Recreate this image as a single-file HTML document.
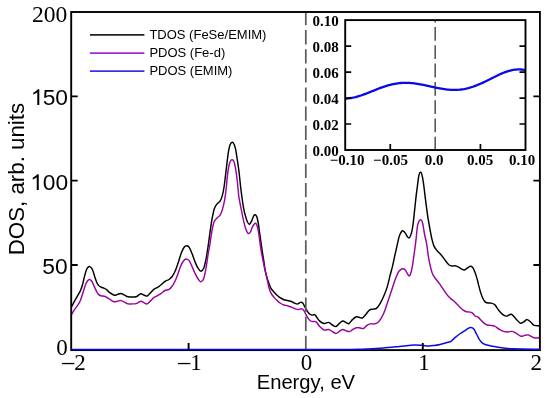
<!DOCTYPE html>
<html><head><meta charset="utf-8"><title>DOS</title>
<style>html,body{margin:0;padding:0;background:#fff;width:550px;height:398px;overflow:hidden;font-family:"Liberation Sans",sans-serif;}svg{display:block;}</style>
</head><body>
<svg width="550" height="398" viewBox="0 0 550 398" style="will-change:transform"><rect x="0" y="0" width="550" height="398" fill="#fff"/>
<defs><clipPath id="cm"><rect x="71.2" y="12.0" width="468.7" height="340.1"/></clipPath></defs>
<g clip-path="url(#cm)" fill="none" stroke-linejoin="round" stroke-linecap="round">
<path d="M70.00,309.50 C70.42,308.75 71.58,306.68 72.50,305.00 C73.42,303.32 74.50,301.22 75.50,299.40 C76.50,297.58 77.67,295.58 78.50,294.10 C79.33,292.62 79.83,292.05 80.50,290.50 C81.17,288.95 81.87,287.03 82.50,284.80 C83.13,282.57 83.68,279.48 84.30,277.10 C84.92,274.72 85.62,272.10 86.20,270.50 C86.78,268.90 87.22,268.15 87.80,267.50 C88.38,266.85 89.03,266.47 89.70,266.60 C90.37,266.73 91.17,267.32 91.80,268.30 C92.43,269.28 93.00,271.03 93.50,272.50 C94.00,273.97 94.27,275.48 94.80,277.10 C95.33,278.72 96.08,280.82 96.70,282.20 C97.32,283.58 97.87,284.62 98.50,285.40 C99.13,286.18 99.68,286.47 100.50,286.90 C101.32,287.33 102.33,287.52 103.40,288.00 C104.47,288.48 105.90,289.07 106.90,289.80 C107.90,290.53 108.17,291.50 109.40,292.40 C110.63,293.30 112.95,294.87 114.30,295.20 C115.65,295.53 116.42,294.68 117.50,294.40 C118.58,294.12 119.62,293.37 120.80,293.50 C121.98,293.63 123.42,294.65 124.60,295.20 C125.78,295.75 126.62,296.52 127.90,296.80 C129.18,297.08 130.93,296.90 132.30,296.90 C133.67,296.90 135.07,297.08 136.10,296.80 C137.13,296.52 137.68,295.70 138.50,295.20 C139.32,294.70 140.03,293.80 141.00,293.80 C141.97,293.80 143.25,294.83 144.30,295.20 C145.35,295.57 146.22,296.47 147.30,296.00 C148.38,295.53 149.67,293.53 150.80,292.40 C151.93,291.27 152.83,290.13 154.10,289.20 C155.37,288.27 157.13,287.62 158.40,286.80 C159.67,285.98 160.60,285.22 161.70,284.30 C162.80,283.38 163.78,282.10 165.00,281.30 C166.22,280.50 167.82,280.30 169.00,279.50 C170.18,278.70 171.08,277.88 172.10,276.50 C173.12,275.12 174.10,273.47 175.10,271.20 C176.10,268.93 177.10,265.83 178.10,262.90 C179.10,259.97 180.10,256.20 181.10,253.60 C182.10,251.00 183.15,248.60 184.10,247.30 C185.05,246.00 185.92,245.75 186.80,245.80 C187.68,245.85 188.47,246.13 189.40,247.60 C190.33,249.07 191.40,252.05 192.40,254.60 C193.40,257.15 194.38,260.52 195.40,262.90 C196.42,265.28 197.57,267.52 198.50,268.90 C199.43,270.28 200.13,271.32 201.00,271.20 C201.87,271.08 202.87,270.22 203.70,268.20 C204.53,266.18 205.28,262.63 206.00,259.10 C206.72,255.57 207.28,251.82 208.00,247.00 C208.72,242.18 209.60,235.00 210.30,230.20 C211.00,225.40 211.52,221.83 212.20,218.20 C212.88,214.57 213.58,210.78 214.40,208.40 C215.22,206.02 216.15,205.10 217.10,203.90 C218.05,202.70 219.23,202.58 220.10,201.20 C220.97,199.82 221.67,197.80 222.30,195.60 C222.93,193.40 223.38,191.20 223.90,188.00 C224.42,184.80 224.85,180.87 225.40,176.40 C225.95,171.93 226.67,165.45 227.20,161.20 C227.73,156.95 228.10,153.68 228.60,150.90 C229.10,148.12 229.58,145.93 230.20,144.50 C230.82,143.07 231.60,142.22 232.30,142.30 C233.00,142.38 233.82,143.68 234.40,145.00 C234.98,146.32 235.35,147.95 235.80,150.20 C236.25,152.45 236.58,155.05 237.10,158.50 C237.62,161.95 238.25,165.65 238.90,170.90 C239.55,176.15 240.23,183.88 241.00,190.00 C241.77,196.12 242.72,203.15 243.50,207.60 C244.28,212.05 245.03,214.30 245.70,216.70 C246.37,219.10 246.87,220.75 247.50,222.00 C248.13,223.25 248.78,224.43 249.50,224.20 C250.22,223.97 251.10,222.00 251.80,220.60 C252.50,219.20 253.13,216.77 253.70,215.80 C254.27,214.83 254.70,214.68 255.20,214.80 C255.70,214.92 256.18,215.12 256.70,216.50 C257.22,217.88 257.87,220.75 258.30,223.10 C258.73,225.45 258.88,227.58 259.30,230.60 C259.72,233.62 260.30,237.68 260.80,241.20 C261.30,244.72 261.80,248.43 262.30,251.70 C262.80,254.97 263.35,257.83 263.80,260.80 C264.25,263.77 264.55,266.92 265.00,269.50 C265.45,272.08 265.87,274.03 266.50,276.30 C267.13,278.57 268.05,281.08 268.80,283.10 C269.55,285.12 270.12,286.88 271.00,288.40 C271.88,289.92 273.08,291.07 274.10,292.20 C275.12,293.33 276.10,294.28 277.10,295.20 C278.10,296.12 278.97,296.95 280.10,297.70 C281.23,298.45 282.65,299.23 283.90,299.70 C285.15,300.17 286.35,300.20 287.60,300.50 C288.85,300.80 290.27,301.08 291.40,301.50 C292.53,301.92 293.40,302.60 294.40,303.00 C295.40,303.40 296.38,304.00 297.40,303.90 C298.42,303.80 299.62,302.55 300.50,302.40 C301.38,302.25 301.95,302.20 302.70,303.00 C303.45,303.80 304.25,305.87 305.00,307.20 C305.75,308.53 306.45,309.87 307.20,311.00 C307.95,312.13 308.70,313.32 309.50,314.00 C310.30,314.68 311.08,314.95 312.00,315.10 C312.92,315.25 313.75,313.93 315.00,314.90 C316.25,315.87 317.98,319.47 319.50,320.90 C321.02,322.33 322.58,323.25 324.10,323.50 C325.62,323.75 327.22,322.15 328.60,322.40 C329.98,322.65 331.15,324.32 332.40,325.00 C333.65,325.68 334.85,326.85 336.10,326.50 C337.35,326.15 338.77,323.83 339.90,322.90 C341.03,321.97 341.77,320.90 342.90,320.90 C344.03,320.90 345.68,322.47 346.70,322.90 C347.72,323.33 348.00,324.08 349.00,323.50 C350.00,322.92 351.45,320.52 352.70,319.40 C353.95,318.28 355.28,317.10 356.50,316.80 C357.72,316.50 358.98,317.43 360.00,317.60 C361.02,317.77 361.57,318.42 362.60,317.80 C363.63,317.18 365.02,315.23 366.20,313.90 C367.38,312.57 368.53,310.60 369.70,309.80 C370.87,309.00 372.03,309.38 373.20,309.10 C374.37,308.82 375.53,309.07 376.70,308.10 C377.87,307.13 379.03,305.27 380.20,303.30 C381.37,301.33 382.52,299.08 383.70,296.30 C384.88,293.52 386.27,289.97 387.30,286.60 C388.33,283.23 389.03,279.48 389.90,276.10 C390.77,272.72 391.68,269.70 392.50,266.30 C393.32,262.90 394.05,259.10 394.80,255.70 C395.55,252.30 396.25,249.17 397.00,245.90 C397.75,242.63 398.53,238.50 399.30,236.10 C400.07,233.70 400.97,232.37 401.60,231.50 C402.23,230.63 402.48,230.63 403.10,230.90 C403.72,231.17 404.55,232.10 405.30,233.10 C406.05,234.10 406.88,236.17 407.60,236.90 C408.32,237.63 408.97,238.13 409.60,237.50 C410.23,236.87 410.85,235.10 411.40,233.10 C411.95,231.10 412.38,229.15 412.90,225.50 C413.42,221.85 413.97,216.08 414.50,211.20 C415.03,206.32 415.58,200.65 416.10,196.20 C416.62,191.75 417.13,187.98 417.60,184.50 C418.07,181.02 418.43,177.37 418.90,175.30 C419.37,173.23 419.90,172.22 420.40,172.10 C420.90,171.98 421.40,172.85 421.90,174.60 C422.40,176.35 422.90,179.25 423.40,182.60 C423.90,185.95 424.40,190.68 424.90,194.70 C425.40,198.72 425.90,202.93 426.40,206.70 C426.90,210.47 427.40,214.08 427.90,217.30 C428.40,220.52 429.00,223.72 429.40,226.00 C429.80,228.28 429.90,228.90 430.30,231.00 C430.70,233.10 431.18,236.08 431.80,238.60 C432.42,241.12 433.12,244.08 434.00,246.10 C434.88,248.12 436.08,249.43 437.10,250.70 C438.12,251.97 439.10,252.58 440.10,253.70 C441.10,254.82 442.10,256.10 443.10,257.40 C444.10,258.70 445.10,260.23 446.10,261.50 C447.10,262.77 448.10,264.25 449.10,265.00 C450.10,265.75 451.08,265.88 452.10,266.00 C453.12,266.12 454.18,265.55 455.20,265.70 C456.22,265.85 457.20,266.38 458.20,266.90 C459.20,267.42 460.20,268.28 461.20,268.80 C462.20,269.32 463.20,270.10 464.20,270.00 C465.20,269.90 466.20,268.83 467.20,268.20 C468.20,267.57 469.32,266.37 470.20,266.20 C471.08,266.03 471.73,266.27 472.50,267.20 C473.27,268.13 474.05,269.90 474.80,271.80 C475.55,273.70 476.42,276.60 477.00,278.60 C477.58,280.60 477.72,281.55 478.30,283.80 C478.88,286.05 479.75,289.70 480.50,292.10 C481.25,294.50 482.03,296.57 482.80,298.20 C483.57,299.83 484.22,301.10 485.10,301.90 C485.98,302.70 487.23,302.82 488.10,303.00 C488.97,303.18 489.20,302.73 490.30,303.00 C491.40,303.27 493.23,303.30 494.70,304.60 C496.17,305.90 497.63,309.03 499.10,310.80 C500.57,312.57 502.18,314.32 503.50,315.20 C504.82,316.08 505.68,316.25 507.00,316.10 C508.32,315.95 509.93,313.87 511.40,314.30 C512.87,314.73 514.33,317.23 515.80,318.70 C517.27,320.17 518.88,322.57 520.20,323.10 C521.52,323.63 522.53,322.48 523.70,321.90 C524.87,321.32 526.02,319.55 527.20,319.60 C528.38,319.65 529.62,321.23 530.80,322.20 C531.98,323.17 532.77,324.82 534.30,325.40 C535.83,325.98 539.05,325.65 540.00,325.70" stroke="#000" stroke-width="1.45"/>
<path d="M70.00,316.50 C70.30,316.10 71.13,315.13 71.80,314.10 C72.47,313.07 73.13,311.62 74.00,310.30 C74.87,308.98 76.00,307.70 77.00,306.20 C78.00,304.70 78.97,303.67 80.00,301.30 C81.03,298.93 82.32,294.68 83.20,292.00 C84.08,289.32 84.57,287.07 85.30,285.20 C86.03,283.33 86.87,281.75 87.60,280.80 C88.33,279.85 88.97,279.38 89.70,279.50 C90.43,279.62 91.22,280.27 92.00,281.50 C92.78,282.73 93.55,285.07 94.40,286.90 C95.25,288.73 96.42,291.25 97.10,292.50 C97.78,293.75 97.88,293.85 98.50,294.40 C99.12,294.95 99.83,295.48 100.80,295.80 C101.77,296.12 103.28,296.02 104.30,296.30 C105.32,296.58 106.05,297.05 106.90,297.50 C107.75,297.95 108.27,298.30 109.40,299.00 C110.53,299.70 112.35,301.33 113.70,301.70 C115.05,302.07 116.32,301.38 117.50,301.20 C118.68,301.02 119.62,300.42 120.80,300.60 C121.98,300.78 123.42,301.75 124.60,302.30 C125.78,302.85 126.62,303.63 127.90,303.90 C129.18,304.17 130.93,303.95 132.30,303.90 C133.67,303.85 135.07,303.87 136.10,303.60 C137.13,303.33 137.68,302.70 138.50,302.30 C139.32,301.90 140.03,301.12 141.00,301.20 C141.97,301.28 143.30,302.35 144.30,302.80 C145.30,303.25 145.92,304.27 147.00,303.90 C148.08,303.53 149.62,301.68 150.80,300.60 C151.98,299.52 152.83,298.30 154.10,297.40 C155.37,296.50 157.13,295.93 158.40,295.20 C159.67,294.47 160.60,293.78 161.70,293.00 C162.80,292.22 163.78,291.12 165.00,290.50 C166.22,289.88 167.82,290.00 169.00,289.30 C170.18,288.60 171.08,287.68 172.10,286.30 C173.12,284.92 174.10,283.15 175.10,281.00 C176.10,278.85 177.10,276.05 178.10,273.40 C179.10,270.75 180.10,267.28 181.10,265.10 C182.10,262.92 183.15,261.30 184.10,260.30 C185.05,259.30 185.92,259.00 186.80,259.10 C187.68,259.20 188.47,259.52 189.40,260.90 C190.33,262.28 191.40,265.18 192.40,267.40 C193.40,269.62 194.38,272.18 195.40,274.20 C196.42,276.22 197.57,278.25 198.50,279.50 C199.43,280.75 200.13,281.83 201.00,281.70 C201.87,281.57 202.87,280.95 203.70,278.70 C204.53,276.45 205.23,272.47 206.00,268.20 C206.77,263.93 207.67,256.97 208.30,253.10 C208.93,249.23 209.22,248.55 209.80,245.00 C210.38,241.45 211.10,235.63 211.80,231.80 C212.50,227.97 213.12,224.32 214.00,222.00 C214.88,219.68 216.08,219.03 217.10,217.90 C218.12,216.77 219.23,216.53 220.10,215.20 C220.97,213.87 221.55,212.42 222.30,209.90 C223.05,207.38 223.97,203.50 224.60,200.10 C225.23,196.70 225.67,193.22 226.10,189.50 C226.53,185.78 226.78,181.47 227.20,177.80 C227.62,174.13 228.10,170.22 228.60,167.50 C229.10,164.78 229.58,162.78 230.20,161.50 C230.82,160.22 231.65,159.72 232.30,159.80 C232.95,159.88 233.57,160.62 234.10,162.00 C234.63,163.38 235.03,165.47 235.50,168.10 C235.97,170.73 236.45,174.15 236.90,177.80 C237.35,181.45 237.87,186.78 238.20,190.00 C238.53,193.22 238.40,193.92 238.90,197.10 C239.40,200.28 240.43,205.22 241.20,209.10 C241.97,212.98 242.75,217.13 243.50,220.40 C244.25,223.67 244.95,226.55 245.70,228.70 C246.45,230.85 247.23,232.73 248.00,233.30 C248.77,233.87 249.55,233.17 250.30,232.10 C251.05,231.03 251.75,228.33 252.50,226.90 C253.25,225.47 254.10,223.88 254.80,223.50 C255.50,223.12 256.12,223.42 256.70,224.60 C257.28,225.78 257.78,227.83 258.30,230.60 C258.82,233.37 259.30,237.68 259.80,241.20 C260.30,244.72 260.75,248.43 261.30,251.70 C261.85,254.97 262.57,258.08 263.10,260.80 C263.63,263.52 263.93,265.53 264.50,268.00 C265.07,270.47 265.78,272.43 266.50,275.60 C267.22,278.77 268.05,284.07 268.80,287.00 C269.55,289.93 270.12,291.47 271.00,293.20 C271.88,294.93 273.08,296.18 274.10,297.40 C275.12,298.62 276.10,299.57 277.10,300.50 C278.10,301.43 278.97,302.25 280.10,303.00 C281.23,303.75 282.65,304.55 283.90,305.00 C285.15,305.45 286.35,305.33 287.60,305.70 C288.85,306.07 290.13,306.68 291.40,307.20 C292.67,307.72 294.07,308.42 295.20,308.80 C296.33,309.18 297.20,309.50 298.20,309.50 C299.20,309.50 300.32,308.72 301.20,308.80 C302.08,308.88 302.75,309.13 303.50,310.00 C304.25,310.87 304.95,312.65 305.70,314.00 C306.45,315.35 307.23,316.97 308.00,318.10 C308.77,319.23 309.55,320.22 310.30,320.80 C311.05,321.38 311.58,321.45 312.50,321.60 C313.42,321.75 314.63,320.93 315.80,321.70 C316.97,322.47 318.12,324.82 319.50,326.20 C320.88,327.58 322.58,329.45 324.10,330.00 C325.62,330.55 327.22,329.25 328.60,329.50 C329.98,329.75 331.15,330.85 332.40,331.50 C333.65,332.15 334.85,333.48 336.10,333.40 C337.35,333.32 338.77,331.65 339.90,331.00 C341.03,330.35 341.77,329.50 342.90,329.50 C344.03,329.50 345.57,330.67 346.70,331.00 C347.83,331.33 348.70,331.75 349.70,331.50 C350.70,331.25 351.57,330.13 352.70,329.50 C353.83,328.87 355.28,327.95 356.50,327.70 C357.72,327.45 358.83,327.87 360.00,328.00 C361.17,328.13 362.33,328.95 363.50,328.50 C364.67,328.05 365.82,326.07 367.00,325.30 C368.18,324.53 369.42,324.13 370.60,323.90 C371.78,323.67 372.93,324.10 374.10,323.90 C375.27,323.70 376.43,323.63 377.60,322.70 C378.77,321.77 379.93,320.22 381.10,318.30 C382.27,316.38 383.43,314.13 384.60,311.20 C385.77,308.27 386.92,304.22 388.10,300.70 C389.28,297.18 390.52,293.62 391.70,290.10 C392.88,286.58 394.03,282.67 395.20,279.60 C396.37,276.53 397.88,273.25 398.70,271.70 C399.52,270.15 399.50,270.78 400.10,270.30 C400.70,269.82 401.43,268.85 402.30,268.80 C403.17,268.75 404.37,269.03 405.30,270.00 C406.23,270.97 407.13,273.72 407.90,274.60 C408.67,275.48 409.20,276.43 409.90,275.30 C410.60,274.17 411.43,271.07 412.10,267.80 C412.77,264.53 413.27,260.23 413.90,255.70 C414.53,251.17 415.32,245.47 415.90,240.60 C416.48,235.73 416.92,229.67 417.40,226.50 C417.88,223.33 418.30,222.72 418.80,221.60 C419.30,220.48 419.87,219.87 420.40,219.80 C420.93,219.73 421.55,220.28 422.00,221.20 C422.45,222.12 422.68,223.17 423.10,225.30 C423.52,227.43 423.93,231.03 424.50,234.00 C425.07,236.97 425.92,239.82 426.50,243.10 C427.08,246.38 427.50,250.43 428.00,253.70 C428.50,256.97 428.87,259.68 429.50,262.70 C430.13,265.72 431.22,269.78 431.80,271.80 C432.38,273.82 432.30,273.55 433.00,274.80 C433.70,276.05 435.00,277.92 436.00,279.30 C437.00,280.68 437.98,281.72 439.00,283.10 C440.02,284.48 441.08,286.10 442.10,287.60 C443.12,289.10 444.10,290.72 445.10,292.10 C446.10,293.48 447.10,294.77 448.10,295.90 C449.10,297.03 450.10,298.02 451.10,298.90 C452.10,299.78 453.10,300.32 454.10,301.20 C455.10,302.08 456.08,303.15 457.10,304.20 C458.12,305.25 459.18,306.50 460.20,307.50 C461.22,308.50 462.20,309.50 463.20,310.20 C464.20,310.90 465.20,311.40 466.20,311.70 C467.20,312.00 468.20,311.80 469.20,312.00 C470.20,312.20 471.20,312.23 472.20,312.90 C473.20,313.57 474.18,315.27 475.20,316.00 C476.22,316.73 477.28,316.55 478.30,317.30 C479.32,318.05 480.30,319.48 481.30,320.50 C482.30,321.52 483.30,322.65 484.30,323.40 C485.30,324.15 486.30,324.67 487.30,325.00 C488.30,325.33 489.07,325.22 490.30,325.40 C491.53,325.58 493.23,325.47 494.70,326.10 C496.17,326.73 497.63,328.32 499.10,329.20 C500.57,330.08 502.03,330.95 503.50,331.40 C504.97,331.85 506.43,331.90 507.90,331.90 C509.37,331.90 510.83,331.12 512.30,331.40 C513.77,331.68 515.23,332.78 516.70,333.60 C518.17,334.42 519.78,336.00 521.10,336.30 C522.42,336.60 523.43,335.63 524.60,335.40 C525.77,335.17 526.93,334.70 528.10,334.90 C529.27,335.10 530.42,336.08 531.60,336.60 C532.78,337.12 533.80,337.82 535.20,338.00 C536.60,338.18 539.20,337.75 540.00,337.70" stroke="#98049e" stroke-width="1.45"/>
</g>
<line x1="305.8" y1="11" x2="305.8" y2="349" stroke="#5a5a5a" stroke-width="1.7" stroke-dasharray="14.3 4.8"/>
<rect x="71.2" y="12.0" width="468.7" height="338.1" fill="none" stroke="#000" stroke-width="1.9"/>
<path d="M71.50,349.40 C109.58,349.40 253.58,349.40 300.00,349.40 C346.42,349.40 339.67,349.43 350.00,349.40 C360.33,349.37 358.33,349.30 362.00,349.20 C365.67,349.10 369.00,348.95 372.00,348.80 C375.00,348.65 377.33,348.50 380.00,348.30 C382.67,348.10 385.33,347.85 388.00,347.60 C390.67,347.35 393.33,347.08 396.00,346.80 C398.67,346.52 401.00,346.20 404.00,345.90 C407.00,345.60 411.03,345.10 414.00,345.00 C416.97,344.90 419.37,345.13 421.80,345.30 C424.23,345.47 426.57,345.97 428.60,346.00 C430.63,346.03 432.10,345.77 434.00,345.50 C435.90,345.23 438.08,344.82 440.00,344.40 C441.92,343.98 443.68,343.52 445.50,343.00 C447.32,342.48 449.27,342.23 450.90,341.30 C452.53,340.37 453.85,338.62 455.30,337.40 C456.75,336.18 458.15,335.03 459.60,334.00 C461.05,332.97 462.63,332.10 464.00,331.20 C465.37,330.30 466.67,329.20 467.80,328.60 C468.93,328.00 469.80,327.52 470.80,327.60 C471.80,327.68 472.85,328.03 473.80,329.10 C474.75,330.17 475.58,332.28 476.50,334.00 C477.42,335.72 478.30,337.87 479.30,339.40 C480.30,340.93 481.42,342.32 482.50,343.20 C483.58,344.08 484.33,344.23 485.80,344.70 C487.27,345.17 488.93,345.52 491.30,346.00 C493.67,346.48 496.35,347.13 500.00,347.60 C503.65,348.07 506.53,348.53 513.20,348.80 C519.87,349.07 535.53,349.13 540.00,349.20" fill="none" stroke="#0a0ae8" stroke-width="1.5" stroke-linejoin="round"/>
<rect x="307.5" y="13" width="231.5" height="157" fill="#fff"/>
<path d="M71.2,264.98 H77.7 M539.9,264.98 H533.4 M71.2,180.65 H77.7 M539.9,180.65 H533.4 M71.2,96.33 H77.7 M539.9,96.33 H533.4 M188.60,350.1 V343.1 M422.80,350.1 V343.1" stroke="#000" stroke-width="1.9" fill="none"/>
<line x1="435.2" y1="20.1" x2="435.2" y2="149" stroke="#5a5a5a" stroke-width="1.6" stroke-dasharray="13.8 4.5" stroke-dashoffset="11.4"/>
<polyline points="345.20,98.59 346.70,98.52 348.20,98.40 349.71,98.23 351.21,98.01 352.71,97.74 354.21,97.42 355.72,97.06 357.22,96.65 358.72,96.21 360.22,95.74 361.73,95.23 363.23,94.70 364.73,94.15 366.24,93.57 367.74,92.99 369.24,92.39 370.74,91.78 372.25,91.17 373.75,90.56 375.25,89.95 376.75,89.35 378.25,88.76 379.76,88.19 381.26,87.63 382.76,87.09 384.26,86.58 385.77,86.09 387.27,85.63 388.77,85.20 390.27,84.81 391.78,84.44 393.28,84.11 394.78,83.82 396.28,83.56 397.79,83.34 399.29,83.16 400.79,83.02 402.30,82.91 403.80,82.85 405.30,82.81 406.80,82.82 408.31,82.86 409.81,82.94 411.31,83.05 412.81,83.19 414.31,83.36 415.82,83.55 417.32,83.77 418.82,84.02 420.32,84.29 421.83,84.57 423.33,84.87 424.83,85.19 426.33,85.51 427.84,85.84 429.34,86.18 430.84,86.52 432.35,86.86 433.85,87.19 435.35,87.52 436.85,87.83 438.36,88.14 439.86,88.43 441.36,88.70 442.86,88.95 444.37,89.17 445.87,89.37 447.37,89.54 448.87,89.68 450.38,89.79 451.88,89.87 453.38,89.91 454.88,89.91 456.38,89.87 457.89,89.79 459.39,89.67 460.89,89.51 462.39,89.31 463.90,89.06 465.40,88.77 466.90,88.44 468.40,88.07 469.91,87.66 471.41,87.21 472.91,86.72 474.41,86.19 475.92,85.63 477.42,85.04 478.92,84.41 480.43,83.76 481.93,83.09 483.43,82.39 484.93,81.67 486.44,80.93 487.94,80.19 489.44,79.44 490.94,78.68 492.44,77.93 493.95,77.18 495.45,76.44 496.95,75.71 498.46,75.00 499.96,74.31 501.46,73.66 502.96,73.03 504.47,72.44 505.97,71.89 507.47,71.39 508.97,70.94 510.48,70.54 511.98,70.20 513.48,69.92 514.98,69.70 516.49,69.55 517.99,69.47 519.49,69.45 520.99,69.51 522.50,69.64 524.00,69.84 525.50,70.11" fill="none" stroke="#0a0ae8" stroke-width="2.3" stroke-linejoin="round"/>
<rect x="345.2" y="20.1" width="180.3" height="129.9" fill="none" stroke="#000" stroke-width="1.9"/>
<path d="M345.2,124.02 H351.2 M525.5,124.02 H519.5 M345.2,98.04 H351.2 M525.5,98.04 H519.5 M345.2,72.06 H351.2 M525.5,72.06 H519.5 M345.2,46.08 H351.2 M525.5,46.08 H519.5 M390.28,150.0 V144.0 M480.43,150.0 V144.0" stroke="#000" stroke-width="1.7" fill="none"/>
<text x="338.8" y="156.20" text-anchor="end" font-family='"Liberation Serif", serif' font-weight="bold" font-size="15">0.00</text>
<text x="338.8" y="130.22" text-anchor="end" font-family='"Liberation Serif", serif' font-weight="bold" font-size="15">0.02</text>
<text x="338.8" y="104.24" text-anchor="end" font-family='"Liberation Serif", serif' font-weight="bold" font-size="15">0.04</text>
<text x="338.8" y="78.26" text-anchor="end" font-family='"Liberation Serif", serif' font-weight="bold" font-size="15">0.06</text>
<text x="338.8" y="52.28" text-anchor="end" font-family='"Liberation Serif", serif' font-weight="bold" font-size="15">0.08</text>
<text x="338.8" y="26.30" text-anchor="end" font-family='"Liberation Serif", serif' font-weight="bold" font-size="15">0.10</text>
<text x="347.2" y="165" text-anchor="middle" font-family='"Liberation Serif", serif' font-weight="bold" font-size="15">−0.10</text>
<text x="390.5" y="165" text-anchor="middle" font-family='"Liberation Serif", serif' font-weight="bold" font-size="15">−0.05</text>
<text x="434.0" y="165" text-anchor="middle" font-family='"Liberation Serif", serif' font-weight="bold" font-size="15">0.0</text>
<text x="480.2" y="165" text-anchor="middle" font-family='"Liberation Serif", serif' font-weight="bold" font-size="15">0.05</text>
<text x="522.2" y="165" text-anchor="middle" font-family='"Liberation Serif", serif' font-weight="bold" font-size="15">0.10</text>
<text x="67.3" y="21.5" text-anchor="end" font-family='"Liberation Serif", serif' font-size="23.6">200</text>
<text x="68.0" y="105.0" text-anchor="end" font-family='"Liberation Sans", sans-serif' font-size="22.8">50</text>
<path d="M39.29,105.00 L37.29,105.00 L37.29,92.23 C36.81,92.69 36.18,93.15 35.40,93.61 C34.62,94.07 33.92,94.41 33.28,94.65 L33.28,92.71 C34.41,92.19 35.39,91.55 36.22,90.81 C37.06,90.06 37.65,89.56 37.99,89.31 L39.29,89.31 Z" fill="#000"/>
<text x="68.1" y="190.0" text-anchor="end" font-family='"Liberation Sans", sans-serif' font-size="22.8">00</text>
<path d="M38.75,190.00 L36.75,190.00 L36.75,177.23 C36.27,177.69 35.64,178.15 34.86,178.61 C34.08,179.07 33.38,179.41 32.74,179.65 L32.74,177.71 C33.87,177.19 34.85,176.55 35.68,175.81 C36.52,175.06 37.11,174.56 37.45,174.31 L38.75,174.31 Z" fill="#000"/>
<text x="67.6" y="274.2" text-anchor="end" font-family='"Liberation Sans", sans-serif' font-size="22.8">50</text>
<text x="67.8" y="355.1" text-anchor="end" font-family='"Liberation Serif", serif' font-size="23.0">0</text>
<text x="79.9" y="369.8" text-anchor="middle" font-family='"Liberation Serif", serif' font-size="23.0">2</text>
<text x="196.0" y="369.8" text-anchor="middle" font-family='"Liberation Serif", serif' font-size="23.0">1</text>
<text x="306.5" y="369.8" text-anchor="middle" font-family='"Liberation Serif", serif' font-size="23.0">0</text>
<text x="424.1" y="369.8" text-anchor="middle" font-family='"Liberation Serif", serif' font-size="23.0">1</text>
<text x="536.2" y="369.8" text-anchor="middle" font-family='"Liberation Serif", serif' font-size="23.0">2</text>
<rect x="61.9" y="362.9" width="12.4" height="1.3" fill="#000"/>
<rect x="177.9" y="362.9" width="12.5" height="1.3" fill="#000"/>
<text x="305.9" y="388.7" text-anchor="middle" font-family='"Liberation Sans", sans-serif' font-size="20.2">Energy, eV</text>
<text transform="translate(24.0,179.1) rotate(-90)" text-anchor="middle" font-family='"Liberation Sans", sans-serif' font-size="22.3">DOS, arb. units</text>
<line x1="89.9" y1="34.9" x2="144.4" y2="34.9" stroke="#222" stroke-width="1.8"/>
<text x="149.4" y="39.4" text-anchor="start" font-family='"Liberation Sans", sans-serif' font-size="13.0">TDOS (FeSe/EMIM)</text>
<line x1="89.9" y1="53.1" x2="144.4" y2="53.1" stroke="#9a2ed8" stroke-width="1.8"/>
<text x="149.4" y="56.9" text-anchor="start" font-family='"Liberation Sans", sans-serif' font-size="13.0">PDOS (Fe-d)</text>
<line x1="89.9" y1="71.1" x2="144.4" y2="71.1" stroke="#3535e0" stroke-width="1.8"/>
<text x="149.4" y="75.3" text-anchor="start" font-family='"Liberation Sans", sans-serif' font-size="13.0">PDOS (EMIM)</text></svg>
</body></html>
